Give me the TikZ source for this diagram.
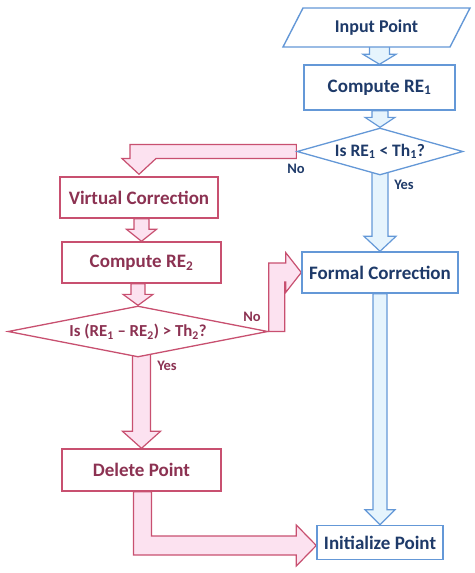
\documentclass[tikz,border=0pt]{standalone}
\usepackage{fontspec}
\setmainfont{Carlito}
\usetikzlibrary{shapes.geometric,calc}
\pgfdeclarelayer{bg}
\pgfsetlayers{bg,main}
\definecolor{pk}{RGB}{200,80,112}
\definecolor{pkfill}{RGB}{252,226,240}
\definecolor{pktext}{RGB}{140,50,82}
\definecolor{bl}{RGB}{100,152,215}
\definecolor{blfill}{RGB}{230,244,253}
\definecolor{bltext}{RGB}{30,58,105}
\newcommand\vblk[6]{%
  \draw[#6] let \p1=(#1), \p2=(#2) in
    (\x2-#3,\y1) -- (\x2-#3,\y2+#5) -- (\x2-#4,\y2+#5) -- (\x2,\y2)
    -- (\x2+#4,\y2+#5) -- (\x2+#3,\y2+#5) -- (\x2+#3,\y1) -- cycle;}
\begin{document}
\begin{tikzpicture}[x=1pt,y=-1pt,
  bigfont/.style={font=\fontsize{19}{21}\selectfont\bfseries},
  midfont/.style={font=\fontsize{17.5}{19}\selectfont\bfseries},
  smfont/.style={font=\fontsize{16.8}{18}\selectfont\bfseries},
  lblfont/.style={font=\fontsize{14.5}{16}\selectfont\bfseries},
  bbox/.style={draw=bl,line width=1.4pt,fill=white,text=bltext,bigfont,inner sep=0pt},
  pbox/.style={draw=pk,line width=1.4pt,fill=white,text=pktext,bigfont,inner sep=0pt},
  bdia/.style={diamond,draw=bl,line width=1.3pt,fill=white,text=bltext,midfont,inner sep=0pt},
  pdia/.style={diamond,draw=pk,line width=1.3pt,fill=white,text=pktext,smfont,inner sep=0pt},
  barrow/.style={draw=bl,fill=blfill,line width=1.2pt,line join=miter},
  parrow/.style={draw=pk,fill=pkfill,line width=1.2pt,line join=miter},
  blbl/.style={text=bltext,lblfont,inner sep=0pt},
  plbl/.style={text=pktext,lblfont,inner sep=0pt}]
\useasboundingbox (0,0) rectangle (474,573);

% input parallelogram
\draw[draw=bl,line width=1.4pt,fill=white] (303,8) -- (470,8) -- (450,47) -- (283,47) -- cycle;
\node[text=bltext,font=\fontsize{18}{20}\selectfont\bfseries,inner sep=0pt] (inp) at (376.5,27.5) {Input Point};

\node[bbox,minimum width=151pt,minimum height=45pt] (c1) at (379.5,87.5) {Compute RE\textsubscript{1}};
\node[bdia,aspect=3.53,minimum width=166pt,minimum height=47pt] (d1) at (380,151.5) {Is RE\textsubscript{1} < Th\textsubscript{1}?};
\node[bbox,minimum width=156pt,minimum height=41pt] (fc) at (380,272.5) {Formal Correction};
\node[bbox,minimum width=126pt,minimum height=34pt] (init) at (380,542.5) {Initialize Point};

\node[pbox,minimum width=158pt,minimum height=41pt] (vc) at (139,197.5) {Virtual Correction};
\node[pbox,minimum width=159pt,minimum height=41pt] (c2) at (141.5,262.5) {Compute RE\textsubscript{2}};
\node[pdia,aspect=5.1,minimum width=260pt,minimum height=51pt] (d2) at (138,331.5) {Is (RE\textsubscript{1} – RE\textsubscript{2}) > Th\textsubscript{2}?};
\node[pbox,minimum width=159pt,minimum height=42pt] (del) at (141.5,470) {Delete Point};

\node[blbl] (no1) at (296,169) {No};
\node[blbl] (yes1) at (404,185) {Yes};
\node[plbl] (no2) at (252,317) {No};
\node[plbl] (yes2) at (167,366) {Yes};

\begin{pgfonlayer}{bg}
  % blue straight arrows
  \vblk{inp.center}{c1.north}{10pt}{16.5pt}{10pt}{barrow}
  \vblk{c1.south}{d1.north}{8pt}{15pt}{10pt}{barrow}
  \vblk{d1.center}{fc.north}{8pt}{16pt}{15pt}{barrow}
  \vblk{fc.south}{init.north}{7pt}{15pt}{15pt}{barrow}
  % pink straight arrows
  \vblk{vc.south}{c2.north}{7.5pt}{15pt}{12pt}{parrow}
  \vblk{c2.south}{d2.north}{7pt}{15pt}{11pt}{parrow}
  \vblk{d2.center}{del.north}{9pt}{19pt}{17pt}{parrow}
  % pink bent arrow: d1 -> vc
  \draw[parrow] let \p1=(d1.west), \p2=($(vc.north)+(0,-2)$) in
    (\x1,\y1+7pt) -- (\x2-9pt,\y1+7pt) -- (\x2-9pt,\y1-7pt) -- (\x2-17pt,\y1-7pt)
    -- (\x2,\y2) -- (\x2+17pt,\y1-7pt) -- (\x1,\y1-7pt) -- cycle;
  % pink bent arrow: d2 -> fc
  \draw[parrow] let \p1=(d2.east), \p2=(fc.west) in
    (\x1,\y1) -- (\x1,\y2+9.5pt) -- (\x1+17pt,\y2+9.5pt) -- (\x1+17pt,\y2+20pt)
    -- (\x2,\y2) -- (\x1+17pt,\y2-20pt) -- (\x1+17pt,\y2-9.5pt) -- (\x1+16pt,\y2-9.5pt)
    -- (\x1+16pt,\y1) -- cycle;
  % pink bent arrow: del -> init
  \draw[parrow] let \p1=(del.south), \p2=($(init.west)+(0,3)$) in
    (\x1-8pt,\y1) -- (\x1-8pt,\y2-9.5pt) -- (\x2-20pt,\y2-9.5pt) -- (\x2-20pt,\y2-20.5pt)
    -- (\x2,\y2) -- (\x2-20pt,\y2+20.5pt) -- (\x2-20pt,\y2+9.5pt) -- (\x1+10pt,\y2+9.5pt)
    -- (\x1+10pt,\y1) -- cycle;
\end{pgfonlayer}
\end{tikzpicture}
\end{document}
